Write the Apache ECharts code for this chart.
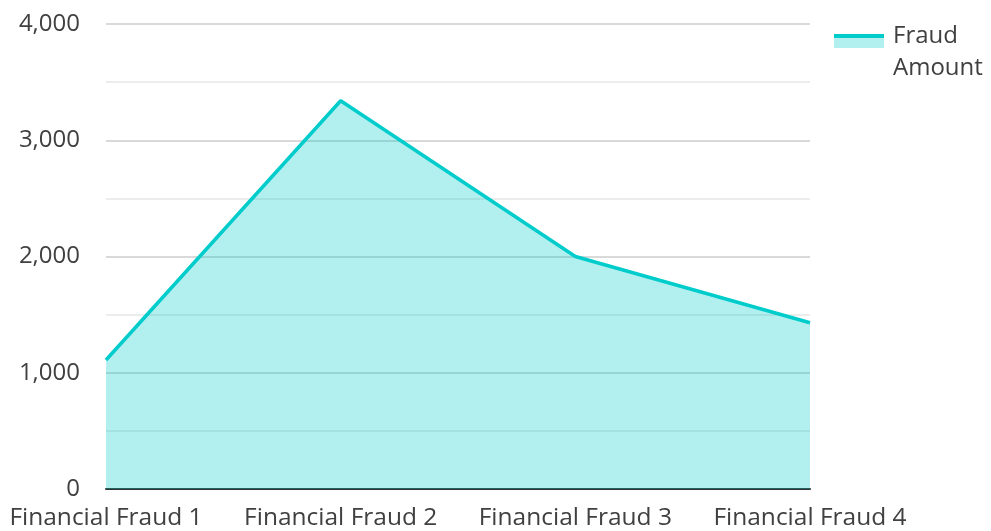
<!DOCTYPE html>
<html>
<head>
<meta charset="utf-8">
<script src="https://cdn.jsdelivr.net/npm/echarts@6/dist/echarts.min.js"></script>
<style>
  html, body { margin: 0; padding: 0; background: #fff; }
  #chart { width: 991px; height: 531px; }
</style>
</head>
<body>
<div id="chart"></div>
<script>
// 数据
var categories = ['Financial Fraud 1', 'Financial Fraud 2', 'Financial Fraud 3', 'Financial Fraud 4'];
var fraudAmount = [1110, 3340, 2000, 1430];
var seriesName = 'Fraud Amount';

var lineColor = '#00cccc';
var areaColor = 'rgba(0, 204, 204, 0.3)';

var chart = echarts.init(document.getElementById('chart'));
chart.setOption({
  animation: false,
  textStyle: {
    fontFamily: '"Open Sans", "Noto Sans", sans-serif'
  },
  legend: {
    left: 834,
    top: 20,
    padding: 0,
    itemWidth: 50,
    itemHeight: 36,
    data: [{
      name: seriesName,
      icon: 'rect',
      itemStyle: { //图例：上面线，下面面积，其余透明
        color: {
          type: 'linear', x: 0, y: 0, x2: 0, y2: 1,
          colorStops: [
            { offset: 0, color: lineColor },
            { offset: 0.1, color: lineColor },
            { offset: 0.1, color: '#b2efef' },
            { offset: 0.375, color: '#b2efef' },
            { offset: 0.375, color: 'rgba(255,255,255,0)' },
            { offset: 1, color: 'rgba(255,255,255,0)' }
          ]
        }
      }
    }],
    formatter: function(name) {
      return name.replace(' ', '\n');
    },
    textStyle: {
      fontSize: 24,
      color: '#404040',
      lineHeight: 32,
      padding: [0, 0, 0, 4]
    }
  },
  grid: {
    left: 106,
    right: 181,
    top: 24,
    bottom: 41
  },
  xAxis: {
    type: 'category',
    boundaryGap: false,
    data: categories,
    axisTick: { show: false },
    axisLine: {
      lineStyle: { color: '#333333', width: 2 }
    },
    axisLabel: {
      fontSize: 24.5,
      color: '#404040',
      margin: 17,
      interval: 0
    }
  },
  yAxis: {
    type: 'value',
    min: 0,
    max: 4000,
    interval: 1000,
    axisLine: { show: false },
    axisTick: { show: false },
    axisLabel: {
      fontSize: 24,
      color: '#404040',
      margin: 26
    },
    splitLine: {
      lineStyle: { color: '#cccccc', width: 1.5 }
    },
    minorTick: { show: false, splitNumber: 2 },
    minorSplitLine: {
      show: true,
      lineStyle: { color: '#e6e6e6', width: 1.5 }
    }
  },
  series: [{
    name: seriesName,
    type: 'line',
    data: fraudAmount,
    symbol: 'none',
    lineStyle: { color: lineColor, width: 3.5 },
    itemStyle: { color: lineColor },
    areaStyle: { color: areaColor, opacity: 1 }
  }]
});
</script>
</body>
</html>
